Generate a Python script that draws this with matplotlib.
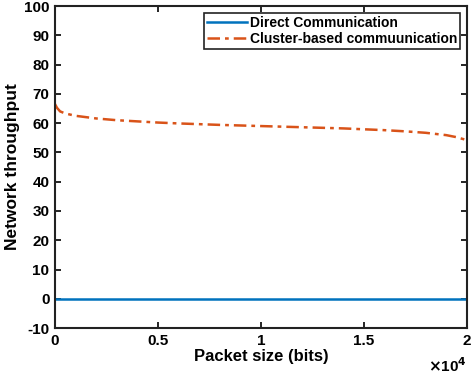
import matplotlib
matplotlib.use("Agg")
import matplotlib.pyplot as plt

plt.rcParams["font.family"] = ["Liberation Sans", "DejaVu Sans"]
plt.rcParams["font.weight"] = "bold"
plt.rcParams["axes.unicode_minus"] = False

# values
packet_size = [0, 100, 250, 500, 1000, 2000, 3000, 4000, 5000, 6000, 8000,
               10000, 12000, 14000, 16000, 17000, 18000, 19000, 19500, 20000]
cluster_tp = [66.5, 65.2, 64.0, 63.3, 62.5, 61.6, 61.0, 60.6, 60.2, 59.9, 59.4,
              59.0, 58.6, 58.2, 57.6, 57.2, 56.7, 55.9, 55.2, 54.2]
direct_tp = [0] * len(packet_size)

fig = plt.figure(figsize=(4.74, 3.75), dpi=100)
ax = fig.add_axes([0.116, 0.125, 0.869, 0.859])

ax.plot(packet_size, direct_tp, color="#0072BD", lw=1.8, label="Direct Communication")
ax.plot(packet_size, cluster_tp, color="#D95319", lw=1.8, ls="-.",
        dashes=(5, 2, 1.5, 2), label="Cluster-based commuunication")

ax.set_xlim(0, 20000)
ax.set_ylim(-10, 100)
ax.set_yticks(range(-10, 101, 10))
ax.set_xticks([0, 5000, 10000, 15000, 20000])
ax.set_xticklabels(["0", "0.5", "1", "1.5", "2"])
ax.text(1.0, -0.088, r"$\times$10$^{4}$", transform=ax.transAxes,
        ha="right", va="top", fontsize=11, fontweight="bold")

ax.tick_params(direction="in", top=True, right=True, length=4, width=1.2,
               labelsize=11, pad=4)
for sp in ax.spines.values():
    sp.set_linewidth(1.5)
    sp.set_color("#222222")

ax.set_xlabel("Packet size (bits)", fontsize=12, fontweight="bold", labelpad=1)
ax.set_ylabel("Network throughput", fontsize=12.5, fontweight="bold", labelpad=3)

leg = ax.legend(loc="upper right", fontsize=10, fancybox=False, framealpha=1,
                borderpad=0.2, labelspacing=0.15, handlelength=2.9,
                handletextpad=0.2, borderaxespad=0.5)
leg.get_frame().set_edgecolor("#222222")
leg.get_frame().set_linewidth(1.2)

fig.savefig("out.png", dpi=100)
